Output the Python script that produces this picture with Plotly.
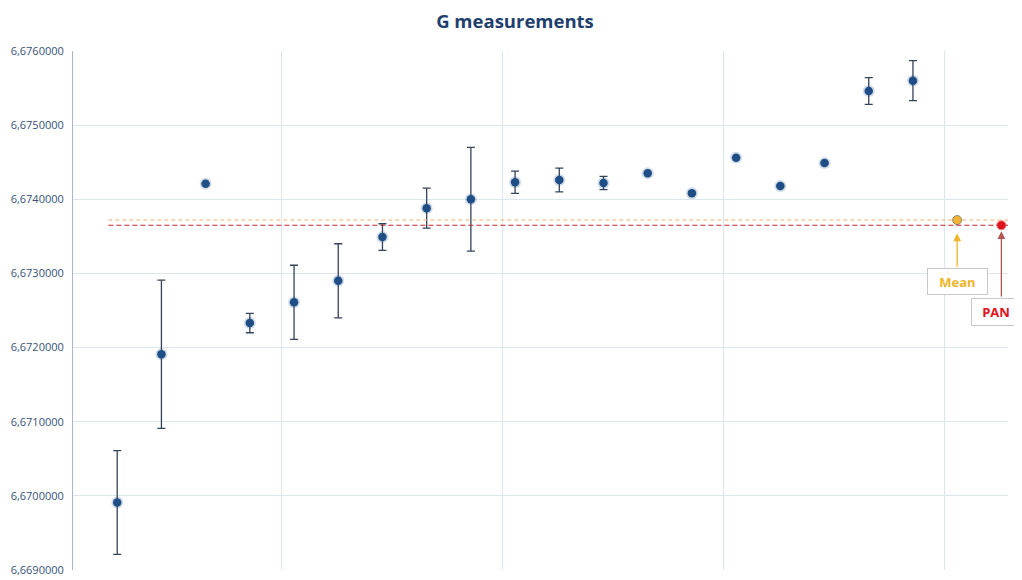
import plotly.graph_objects as go

# --- data ---
idx = list(range(1, 20))
g_values = [6.66991, 6.67191, 6.67421, 6.67233, 6.67261, 6.67290, 6.67349, 6.67388,
            6.67400, 6.67423, 6.67426, 6.67422, 6.67435, 6.67408, 6.67456, 6.67418,
            6.67449, 6.67546, 6.67560]
g_errors = [0.00070, 0.00100, 0.0, 0.00013, 0.00050, 0.00050, 0.00018, 0.00027,
            0.00070, 0.00015, 0.00016, 0.00009, 0.0, 0.0, 0.0, 0.0,
            0.0, 0.00018, 0.00027]
mean_x, mean_value = 20, 6.67372
pan_x, pan_value = 21, 6.67365
y_ticks = [6.669, 6.670, 6.671, 6.672, 6.673, 6.674, 6.675, 6.676]
y_ticklabels = ["6,6690000", "6,6700000", "6,6710000", "6,6720000",
                "6,6730000", "6,6740000", "6,6750000", "6,6760000"]
x_grid = [4.72, 9.72, 14.72, 19.72]

blue = "#1F4E86"
grid = "#DCE6EF"

fig = go.Figure()

# shadow/glow behind the points
fig.add_trace(go.Scatter(x=idx, y=g_values, mode="markers",
                         marker=dict(size=12, color="rgba(31,78,134,0.2)"),
                         hoverinfo="skip", showlegend=False))
fig.add_trace(go.Scatter(
    x=idx, y=g_values, mode="markers",
    marker=dict(size=8.5, color=blue),
    error_y=dict(type="data", array=g_errors, visible=True,
                 color="#34445A", thickness=1.3, width=4),
    showlegend=False))

# reference dashed lines
fig.add_shape(type="line", xref="x", yref="y", x0=0.8, x1=21.25,
              y0=mean_value, y1=mean_value,
              line=dict(color="#F2B07A", width=1, dash="4px,3px"))
fig.add_shape(type="line", xref="x", yref="y", x0=0.8, x1=21.25,
              y0=pan_value, y1=pan_value,
              line=dict(color="#CC2229", width=1.2, dash="5px,3px"))

fig.add_trace(go.Scatter(x=[mean_x], y=[mean_value], mode="markers",
                         marker=dict(size=9, color="#F2B42A",
                                     line=dict(color="#8A8A7A", width=1)),
                         showlegend=False))
fig.add_trace(go.Scatter(x=[pan_x], y=[pan_value], mode="markers",
                         marker=dict(size=9, color="#E0121E",
                                     line=dict(color="#E88080", width=1)),
                         showlegend=False))

# labels with arrows
fig.add_annotation(x=mean_x, y=6.67354, xref="x", yref="y",
                   ax=mean_x, ay=6.67307, axref="x", ayref="y",
                   showarrow=True, arrowhead=2, arrowsize=1.2, arrowwidth=1.3,
                   arrowcolor="#F2B42A", text="")
fig.add_annotation(x=20.01, y=6.67289, xref="x", yref="y",
                   text="<b>Mean</b>", showarrow=False,
                   font=dict(family="Open Sans", size=13, color="#F2B42A"),
                   bgcolor="white", bordercolor="#C8C8C8", borderwidth=1,
                   width=57, height=23)
fig.add_annotation(x=pan_x, y=6.67357, xref="x", yref="y",
                   ax=pan_x, ay=6.67267, axref="x", ayref="y",
                   showarrow=True, arrowhead=2, arrowsize=1.2, arrowwidth=1.3,
                   arrowcolor="#B85450", text="")
fig.add_annotation(x=20.88, y=6.67248, xref="x", yref="y",
                   text="<b>PAN</b>", showarrow=False,
                   font=dict(family="Open Sans", size=13, color="#E0121E"),
                   bgcolor="white", bordercolor="#C8C8C8", borderwidth=1,
                   width=46, height=24)

fig.update_layout(
    width=1014, height=572,
    margin=dict(l=65, r=14, t=43, b=10),
    paper_bgcolor="white", plot_bgcolor="white",
    title=dict(text="<b>G measurements</b>", x=0.5, xanchor="center",
               y=0.976, yanchor="middle",
               font=dict(family="Open Sans", size=18.5, color="#1F3F6E")),
    font=dict(family="Open Sans"),
)
fig.update_xaxes(range=[0, 21.15], tickvals=x_grid, showticklabels=False,
                 showgrid=True, gridcolor=grid, gridwidth=1,
                 zeroline=False, showline=False, ticks="")
fig.update_yaxes(range=[6.669, 6.676], tickvals=y_ticks, ticktext=y_ticklabels,
                 showgrid=True, gridcolor=grid, gridwidth=1, automargin=False,
                 zeroline=False, showline=True, linecolor="#A9B8C8", linewidth=1,
                 ticks="", ticklabelstandoff=6,
                 tickfont=dict(family="Open Sans", size=11, color="#36527A"))

fig.write_html("out.html")
